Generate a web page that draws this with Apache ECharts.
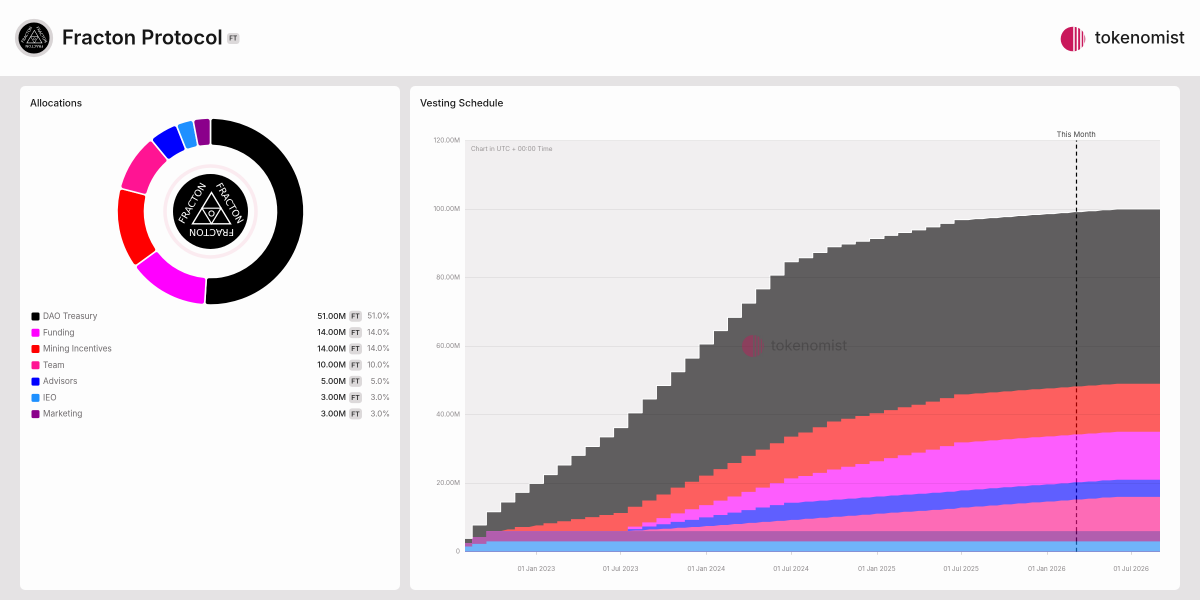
<!DOCTYPE html>
<html><head><meta charset="utf-8">
<style>html,body{margin:0;padding:0;background:#e5e3e4}#c{width:1200px;height:600px}</style>
<script src="https://cdn.jsdelivr.net/npm/echarts@6/dist/echarts.min.js"></script>
</head><body><div id="c"></div>
<script>
const allocNames = ['DAO Treasury','Funding','Mining Incentives','Team','Advisors','IEO','Marketing'];
const allocValues = [51,14,14,10,5,3,3];
const allocColors = ['#000000','#ff00ff','#ff0000','#ff1493','#0000ff','#1e90ff','#8b008b'];
const allocAmounts = ['51.00M','14.00M','14.00M','10.00M','5.00M','3.00M','3.00M'];
const allocShares = ['51.0%','14.0%','14.0%','10.0%','5.0%','3.0%','3.0%'];

const months = ['2022-08-01','2022-09-01','2022-10-01','2022-11-01','2022-12-01',
 '2023-01-01','2023-02-01','2023-03-01','2023-04-01','2023-05-01','2023-06-01','2023-07-01','2023-08-01','2023-09-01','2023-10-01','2023-11-01','2023-12-01',
 '2024-01-01','2024-02-01','2024-03-01','2024-04-01','2024-05-01','2024-06-01','2024-07-01','2024-08-01','2024-09-01','2024-10-01','2024-11-01','2024-12-01',
 '2025-01-01','2025-02-01','2025-03-01','2025-04-01','2025-05-01','2025-06-01','2025-07-01','2025-08-01','2025-09-01','2025-10-01','2025-11-01','2025-12-01',
 '2026-01-01','2026-02-01','2026-03-01','2026-04-01','2026-05-01','2026-06-01','2026-07-01','2026-08-01','2026-09-01'];
const ieo = [1.5,2.3,3,3,3,3,3,3,3,3,3,3,3,3,3,3,3,3,3,3,3,3,3,3,3,3,3,3,3,3,3,3,3,3,3,3,3,3,3,3,3,3,3,3,3,3,3,3,3,3];
const marketing = [1,2,3,3,3,3,3,3,3,3,3,3,3,3,3,3,3,3,3,3,3,3,3,3,3,3,3,3,3,3,3,3,3,3,3,3,3,3,3,3,3,3,3,3,3,3,3,3,3,3];
const team = [0,0,0,0,0,0,0,0,0,0,0,0,.2,.5,.7,1,1.2,1.5,1.8,2.1,2.4,2.7,3,3.3,3.6,3.9,4.2,4.5,4.8,5.1,5.4,5.65,5.9,6.2,6.5,6.9,7.2,7.5,7.8,8.1,8.4,8.65,8.95,9.25,9.5,9.8,10,10,10,10];
const advisors = [0,0,0,0,0,0,0,0,0,0,0,0,.4,.85,1.3,1.7,2.1,2.5,2.9,3.3,3.75,4.2,4.6,5,5,5,5,5,5,5,5,5,5,5,5,5,5,5,5,5,5,5,5,5,5,5,5,5,5,5];
const funding = [0,0,0,0,0,0,0,0,0,0,0,0,.7,1.2,1.8,2.5,3.1,3.6,4.2,4.7,5.3,5.8,6.4,7.1,7.5,8.1,8.8,9.3,9.8,10.3,10.9,11.5,12,12.6,13.3,14,14,14,14,14,14,14,14,14,14,14,14,14,14,14];
const mining = [0,0,0,.5,1.2,1.7,2.3,2.9,3.5,4.1,4.7,5.3,5.8,6.4,6.9,7.5,8,8.6,9.2,9.8,10.5,11.1,11.65,12.2,12.7,13.3,14,14,14,14,14,14,14,14,14,14,14,14,14,14,14,14,14,14,14,14,14,14,14,14];
const dao = [1.4,3.5,5.65,8,10.1,12.2,14.2,16.4,18.6,20.6,22.8,24.9,27.4,29.6,31.8,33.8,36.1,38.4,40.4,42.5,44.6,46.9,49.05,51,51,51,51,51,51,51,51,51,51,51,51,51,51,51,51,51,51,51,51,51,51,51,51,51,51,51];
const xTicks = ['2023-01-01','2023-07-01','2024-01-01','2024-07-01','2025-01-01','2025-07-01','2026-01-01','2026-07-01'];
const thisMonth = '2026-03-05';
const thisMonthStep = '2026-03-01';

const FONT = 'Inter';
const MON = ['Jan','Feb','Mar','Apr','May','Jun','Jul','Aug','Sep','Oct','Nov','Dec'];
const ts = s => Date.parse(s + 'T00:00:00Z');

function text(t, x, y, size, color, weight, align, z) {
  return {type:'text', x, y, z: z || 5, silent:true,
    style:{text:t, fontFamily:FONT, fontSize:size, fontWeight:weight||400, fill:color, align:align||'left', verticalAlign:'middle'}};
}
function panel(x,y,w,h,r,fill){return {type:'rect',z:-10,silent:true,shape:{x,y,width:w,height:h,r},style:{fill}};}
function badge(x,y,w,h,size){
  return [{type:'rect',z:4,silent:true,shape:{x,y,width:w,height:h,r:3},style:{fill:'#dcd9da'}},
    text('FT',x+w/2,y+h/2+.3,size,'#333',600,'center')];
}
function coinLogo(cx,cy,scale,z){
  const tri = (p,lw)=>({type:'polygon',z:z+1,shape:{points:p},style:{fill:'none',stroke:'#fff',lineWidth:lw}});
  const word = (x,y,rot)=>({type:'text',z:z+1,x,y,rotation:rot,style:{text:'FRACTON',fontFamily:'DejaVu Sans',fontSize:9.5,fontWeight:400,fill:'#fff',align:'center',verticalAlign:'middle'}});
  return {type:'group',x:cx,y:cy,scaleX:scale,scaleY:scale,silent:true,children:[
    {type:'circle',z,shape:{cx:0,cy:0,r:37.5},style:{fill:'#000'}},
    tri([[1,-19],[-18,12.3],[20,12.3]],1.4),
    tri([[-8.5,-3.3],[10.5,-3.3],[1,12.3]],1.2),
    {type:'circle',z:z+1,shape:{cx:1,cy:2,r:2.6},style:{fill:'none',stroke:'#fff',lineWidth:1}},
    word(-17.5,-8,Math.PI/3), word(18.5,-8,-Math.PI/3), word(1,20,Math.PI)
  ]};
}
function brandMark(cx,cy,r,color,bg,opacity,z){
  const bars = [[.02,.12],[.30,.12],[.58,.13],[.83,.1]];
  const kids = [{type:'circle',z,shape:{cx:0,cy:0,r},style:{fill:color,opacity}}];
  bars.forEach(b=>kids.push({type:'rect',z:z+1,shape:{x:b[0]*r,y:-r,width:b[1]*r,height:2*r},style:{fill:bg}}));
  return {type:'group',x:cx,y:cy,silent:true,children:kids};
}

const elements = [
  panel(0,0,1200,76,0,'#fdfdfd'),
  panel(20,86,380,504,5,'#fdfdfd'),
  panel(410,86,770,504,5,'#fdfdfd'),
  {type:'circle',z:3,silent:true,shape:{cx:34,cy:38,r:17.3},style:{fill:'#000',stroke:'#d8d4d5',lineWidth:3.6}},
  coinLogo(34,38,.4,4),
  text('Fracton Protocol',62,38.5,20.2,'#161616',600),
  ...badge(227,33,12.5,11,6.4),
  brandMark(1073,39,12.3,'#c9185b','#fdfdfd',1,4),
  text('tokenomist',1095,38.5,17,'#1c1c1c',500),
  text('Allocations',30,103.5,9.8,'#1a1a1a',500),
  text('Vesting Schedule',420,103.5,10,'#1a1a1a',500),
  {type:'circle',z:3,silent:true,shape:{cx:210.5,cy:211.5,r:45.5},style:{fill:'#fdfdfd',stroke:'#fbebf0',lineWidth:3.5}},
  coinLogo(210.5,211.5,1,4),
  text('Chart in UTC + 00:00 Time',471,149,6.4,'#9a9697',400,'left',6),
  brandMark(753,346,11,'#c9185b','#605e5f',.42,8),
  text('tokenomist',771,346,14.7,'rgba(30,28,29,.28)',400,'left',8)
];
allocNames.forEach((n,i)=>{
  const y = 316.3 + i*16.27;
  elements.push(text(allocAmounts[i],346,y,8.2,'#222',500,'right'));
  elements.push(...badge(349,y-5.5,13,11,6.8));
  elements.push(text(allocShares[i],390,y,7.9,'#7b7779',400,'right'));
});

/* bottom-to-top stacking order: area colour, and colour the dashed marker takes inside that band */
const bands = [
  ['IEO',ieo,'#70b4f9','#125699'],
  ['Marketing',marketing,'#b25eae','#530053'],
  ['Team',team,'#fd6bb6','#990c58'],
  ['Advisors',advisors,'#5f5fff','#000099'],
  ['Funding',funding,'#fd5dfd','#990099'],
  ['Mining Incentives',mining,'#fd5f5f','#990000'],
  ['DAO Treasury',dao,'#605e5f','#000000']
];
const running = months.map(()=>0);
const tops = bands.map(b=>{ b[1].forEach((v,i)=>running[i]+=v); return running.slice(); });

/* Stack tops are drawn largest first, so neighbouring bands never leave a seam between them. */
const vestSeries = bands.map(([n,d,c],k)=>({
   type:'line',name:n+' vesting',step:'middle',symbol:'none',silent:true,animation:false,
   xAxisIndex:0,yAxisIndex:0,
   data:tops[k].map((v,i)=>[ts(months[i]),v]),
   lineStyle:k===bands.length-1?{color:'#fff',width:1}:{width:0},
   areaStyle:{color:c,opacity:1},
   z:3
})).reverse();

const stepIdx = months.indexOf(thisMonthStep);
const tm = ts(thisMonth);
const markSegs = [];
let lo = 0;
bands.forEach((b,k)=>{
  const hi = tops[k][stepIdx];
  markSegs.push([{xAxis:tm,yAxis:lo,lineStyle:{color:b[3]}},{xAxis:tm,yAxis:hi}]);
  lo = hi;
});
markSegs.push([{xAxis:tm,yAxis:lo,lineStyle:{color:'#000'},
  label:{show:true,position:'end',formatter:'This Month',fontFamily:FONT,fontSize:7.4,color:'#444',distance:2}},
  {xAxis:tm,yAxis:120}]);
vestSeries[vestSeries.length-1].markLine = {
  silent:true,symbol:'none',animation:false,z:4,
  lineStyle:{type:[4,3],width:1.2},
  label:{show:false},
  data:markSegs
};

const option = {
  backgroundColor:'#e5e3e4',
  animation:false,
  textStyle:{fontFamily:FONT},
  graphic:{elements},
  legend:{
    left:29.5,top:310.5,orient:'vertical',selectedMode:false,
    data:allocNames,
    icon:'roundRect',itemWidth:10,itemHeight:10,itemGap:4.27,padding:0,
    textStyle:{fontFamily:FONT,fontSize:8.3,color:'#6f6b6d',height:12,lineHeight:12,padding:[0,0,0,-2.5]}
  },
  grid:{left:465,right:40,top:140.5,height:411.2,show:true,backgroundColor:'#f1eff0',borderWidth:0,containLabel:false},
  xAxis:[
   {type:'time',show:false,min:ts(months[0]),max:ts(months[months.length-1])},
   {type:'value',position:'bottom',min:ts(months[0]),max:ts(months[months.length-1]),scale:true,
    axisLine:{show:false},
    axisTick:{show:true,customValues:xTicks.map(ts),length:3,lineStyle:{color:'#d9d6d7'}},
    axisLabel:{show:true,customValues:xTicks.map(ts),margin:14,fontFamily:FONT,fontSize:6.5,color:'#8f8b8d',hideOverlap:false,
      formatter:v=>{const d=new Date(v);return '01 '+MON[d.getUTCMonth()]+' '+d.getUTCFullYear();}},
    splitLine:{show:false}
   }
  ],
  yAxis:{
    type:'value',min:0,max:120,interval:20,z:3.5,
    axisLine:{show:false},axisTick:{show:false},
    axisLabel:{margin:5,fontFamily:FONT,fontSize:6.5,color:'#8f8b8d',formatter:v=>v===0?'0':v.toFixed(2)+'M'},
    splitLine:{show:true,lineStyle:{color:'rgba(0,0,0,.055)',width:1}}
  },
  series:[
    {type:'pie',name:'Allocations',center:[210.5,211.5],radius:[66,93.5],startAngle:90,silent:true,animation:false,
     label:{show:false},labelLine:{show:false},z:2,
     itemStyle:{borderColor:'#fdfdfd',borderWidth:1.6,borderRadius:3},
     data:allocNames.map((n,i)=>({name:n,value:allocValues[i],itemStyle:{color:allocColors[i]}}))},
    ...vestSeries
  ]
};
const chart = echarts.init(document.getElementById('c'),null,{renderer:'canvas',width:1200,height:600,devicePixelRatio:2});
chart.setOption(option);
</script></body></html>
